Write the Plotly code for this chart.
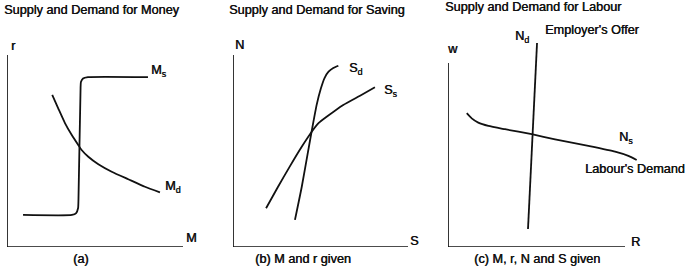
import plotly.graph_objects as go

W, H = 685, 267
FONT = "Liberation Sans, Arial, sans-serif"
FS = 12.7
INK = "#111111"

# ---- data (curve points, in each panel's own 0-100 axis units) ----
# Panel (a): Supply and Demand for Money
ms_x = [9.1, 36.9, 39.3, 40.4, 40.6, 41.8, 42.0, 43.2, 46.0, 80.1]
ms_y = [16.7, 16.7, 17.7, 20.3, 24.5, 82.8, 85.9, 87.8, 88.5, 88.5]
md_x = [25.7, 29.1, 33.0, 36.8, 40.5, 42.4, 46.2, 51.9, 59.5, 68.9, 78.4, 86.9]
md_y = [79.2, 72.2, 64.4, 58.3, 53.1, 50.5, 47.0, 43.1, 39.2, 35.3, 31.4, 28.5]
# Panel (b): Supply and Demand for Saving
ss_x = [18.9, 25.5, 32.5, 39.0, 45.3, 49.0, 53.5, 63.0, 72.6, 81.1]
ss_y = [20.2, 31.0, 42.0, 51.8, 60.4, 64.6, 67.8, 74.0, 78.8, 83.2]
sd_x = [35.4, 39.3, 42.7, 45.3, 47.8, 50.2, 52.3, 54.6, 57.3, 60.2]
sd_y = [14.1, 31.4, 48.8, 62.0, 74.0, 82.5, 88.0, 91.3, 93.2, 94.4]
# Panel (c): Supply and Demand for Labour
nd_x = [50.3, 45.2]
nd_y = [110.9, 9.8]
ns_x = [10.6, 13.4, 17.1, 22.8, 32.2, 47.3, 60.5, 79.3, 94.4, 101.9, 106.6]
ns_y = [72.7, 69.9, 67.6, 65.8, 64.0, 61.3, 58.5, 54.9, 51.8, 49.5, 47.3]

titles = ["Supply and Demand for Money", "Supply and Demand for Saving",
          "Supply and Demand for Labour"]
captions = ["(a)", "(b) M and r given", "(c) M, r, N and S given"]
axis_labels = [("r", "M"), ("N", "S"), ("w", "R")]

# ---- layout geometry (pixels) ----
panels = [
    dict(x0=7, lx=176, y0=247, ytop=55),
    dict(x0=233, lx=175, y0=247, ytop=55),
    dict(x0=448, lx=177, y0=247, ytop=63),
]
XR, YR = 112, 116


def px(x, y):
    return x / W, 1 - y / H


fig = go.Figure()
layout = dict(width=W, height=H, margin=dict(l=0, r=0, t=0, b=0),
              paper_bgcolor="white", plot_bgcolor="rgba(0,0,0,0)",
              showlegend=False, font=dict(family=FONT, size=FS, color=INK))
shapes = []
for i, p in enumerate(panels):
    sx = p["lx"] / 100.0
    sy = (p["y0"] - p["ytop"]) / 100.0
    right = min(p["x0"] + XR * sx, W)
    top = max(p["y0"] - YR * sy, 0)
    sfx = "" if i == 0 else str(i + 1)
    layout["xaxis" + sfx] = dict(domain=[p["x0"] / W, right / W],
                                 range=[0, (right - p["x0"]) / sx],
                                 visible=False, fixedrange=True)
    layout["yaxis" + sfx] = dict(domain=[1 - p["y0"] / H, 1 - top / H],
                                 range=[0, (p["y0"] - top) / sy],
                                 visible=False, fixedrange=True)
    xr, yr = "x" + sfx, "y" + sfx
    shapes.append(dict(type="line", xref=xr, yref=yr, x0=0, y0=0, x1=0, y1=100,
                       line=dict(color=INK, width=1.7)))
    shapes.append(dict(type="line", xref=xr, yref=yr, x0=0, y0=0, x1=100, y1=0,
                       line=dict(color=INK, width=1.7)))

curves = [(ms_x, ms_y, 0, 0.5), (md_x, md_y, 0, 0.5), (ss_x, ss_y, 1, 0.5),
          (sd_x, sd_y, 1, 0.5), (nd_x, nd_y, 2, 0), (ns_x, ns_y, 2, 0.5)]
for xs, ys, i, sm in curves:
    sfx = "" if i == 0 else str(i + 1)
    fig.add_trace(go.Scatter(x=xs, y=ys, mode="lines", xaxis="x" + sfx, yaxis="y" + sfx,
                             line=dict(color=INK, width=1.8,
                                       shape="spline" if sm else "linear",
                                       smoothing=sm if sm else 1),
                             hoverinfo="skip"))

ann = []


def text(t, x, y, anchor="left", size=FS):
    ax, ay = px(x, y)
    ann.append(dict(text=t, x=ax, y=ay, xref="paper", yref="paper", showarrow=False,
                    xanchor=anchor, yanchor="middle",
                    font=dict(size=size, family=FONT, color=INK,
                              shadow="0.4px 0px 0px #111111")))


text(titles[0], 2, 10.5)
text(titles[1], 227, 10.5)
text(titles[2], 443, 7.5)

text(axis_labels[0][0], 13.5, 46.5, "center")
text(axis_labels[0][1], 191, 237.5, "center")
text(axis_labels[1][0], 239.5, 45, "center")
text(axis_labels[1][1], 413.5, 240.5, "center")
text(axis_labels[2][0], 452.5, 48.5, "center")
text(axis_labels[2][1], 635, 241.5, "center")

text(captions[0], 81, 259, "center")
text(captions[1], 253, 259)
text(captions[2], 472, 258.5)

text("M<sub>s</sub>", 148.5, 71)
text("M<sub>d</sub>", 163, 187)
text("S<sub>d</sub>", 347, 69)
text("S<sub>s</sub>", 382, 91)
text("N<sub>d</sub>", 513, 37)
text("N<sub>s</sub>", 617, 138)
text("Employer's Offer", 543, 30)
text("Labour's Demand", 583, 169)

layout["shapes"] = shapes
layout["annotations"] = ann
fig.update_layout(**layout)
fig.write_html("out.html", config={"displayModeBar": False},
               post_script="document.body.style.margin='0';document.body.style.overflow='hidden';")
